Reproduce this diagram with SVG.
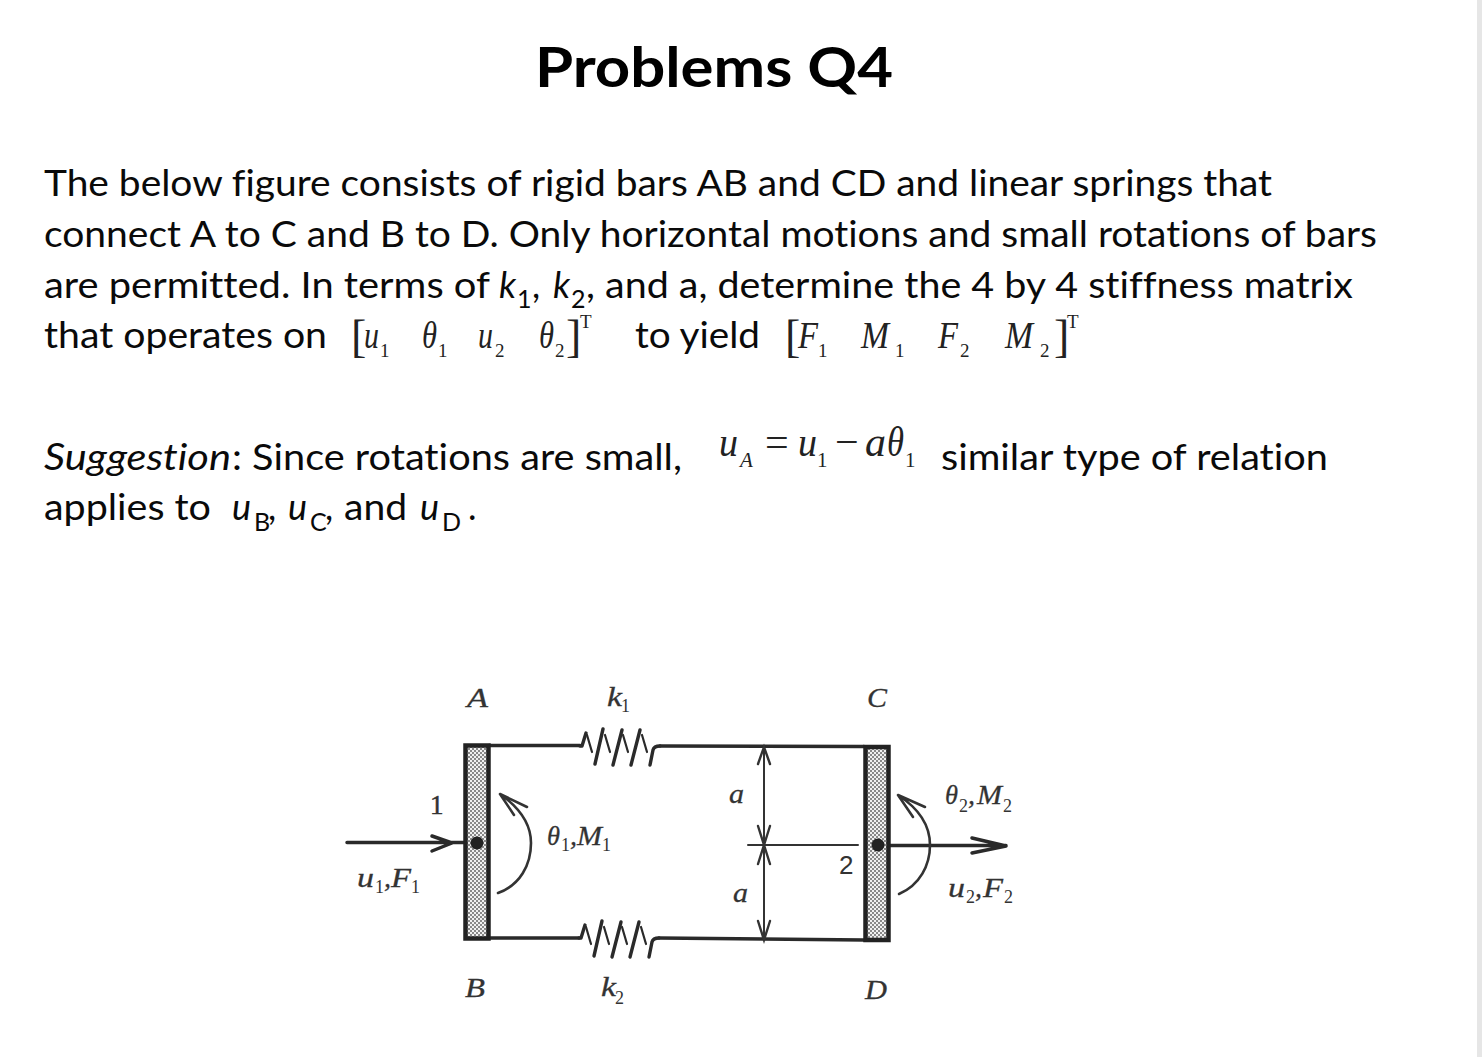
<svg xmlns="http://www.w3.org/2000/svg" width="1482" height="1057" viewBox="0 0 1482 1057">
<style>
.b{font-family:Lato,"Open Sans",sans-serif;font-size:36px;fill:#0a0a0a;font-variant-ligatures:none}
.bi{font-style:italic}
.sb{font-family:Lato,"Open Sans",sans-serif;font-size:25px;fill:#0a0a0a}
.m{font-family:"Liberation Serif",serif;font-style:italic;font-size:37px;fill:#222}
.e{font-family:"Liberation Serif",serif;font-style:italic;font-size:42px;fill:#222}
.u{font-style:normal}
.mn{font-family:"Liberation Serif",serif;font-size:19px;fill:#222}
.mb{font-family:"Liberation Serif",serif;font-size:46px;fill:#222}
.d{font-family:"Liberation Serif",serif;font-style:italic;font-size:28px;fill:#333;stroke:#333;stroke-width:.3}
.ds{font-family:"Liberation Serif",serif;font-size:18px;fill:#333}
.l{fill:none;stroke:#2a2a2a;stroke-width:3.5;stroke-linecap:round;stroke-linejoin:round}
.thin{stroke-width:2.2}
.t{fill:none;stroke:#333;stroke-width:2;stroke-linecap:round}
.bar{fill:url(#st);stroke:#222;stroke-width:4.500}
</style>
<defs>
<pattern id="st" width="4" height="4" patternUnits="userSpaceOnUse">
<rect width="4" height="4" fill="#f0f0f0"/>
<circle cx="1" cy="1" r="1" fill="#666"/>
<circle cx="3" cy="3" r="1" fill="#666"/>
</pattern>
<g id="spring">
<path class="l" d="M0 0H2L6 -13M15 18L23 -17M33 19L42 -16M51 19L60 -16M70 19L73 4Q74 0 80 0" style="stroke-width:3.400"/>
<path class="l thin" d="M7 -11L12 6M25 -11L30 6M43 -11L48 6M62 -11L67 6"/>
</g>
</defs>
<rect width="1482" height="1057" fill="#fff"/>
<rect x="1477" y="0" width="5" height="1057" fill="#e6e6e6"/>

<g id="title"><text x="535" y="87" textLength="358" lengthAdjust="spacingAndGlyphs" style="font-family:Lato,'Open Sans',sans-serif;font-weight:700;font-size:55px;fill:#000">Problems Q4</text></g>

<g id="problem-text">
<text class="b" x="44" y="196" textLength="1228" lengthAdjust="spacingAndGlyphs">The below figure consists of rigid bars AB and CD and linear springs that</text>
<text class="b" x="44" y="247" textLength="1333" lengthAdjust="spacingAndGlyphs">connect A to C and B to D. Only horizontal motions and small rotations of bars</text>
<text class="b" x="44" y="298" textLength="446" lengthAdjust="spacingAndGlyphs">are permitted. In terms of</text>
<text class="b bi" x="499" y="298">k</text><text class="sb" x="517" y="308">1</text><text class="b" x="532" y="298">,</text>
<text class="b bi" x="553" y="298">k</text><text class="sb" x="571" y="308">2</text>
<text class="b" x="586" y="298" textLength="767" lengthAdjust="spacingAndGlyphs">, and a, determine the 4 by 4 stiffness matrix</text>
<text class="b" x="44" y="348" textLength="283" lengthAdjust="spacingAndGlyphs">that operates on</text>
<text class="b" x="635" y="348" textLength="125" lengthAdjust="spacingAndGlyphs">to yield</text>
</g>

<g id="vector-displacements">
<text class="mb" x="351" y="352">[</text>
<text class="m" x="364" y="348" textLength="15" lengthAdjust="spacingAndGlyphs">u</text><text class="mn" x="380" y="357">1</text>
<text class="m" x="422" y="348" textLength="15" lengthAdjust="spacingAndGlyphs">θ</text><text class="mn" x="438" y="357">1</text>
<text class="m" x="478" y="348" textLength="15" lengthAdjust="spacingAndGlyphs">u</text><text class="mn" x="495" y="357">2</text>
<text class="m" x="539" y="348" textLength="15" lengthAdjust="spacingAndGlyphs">θ</text><text class="mn" x="555" y="357">2</text>
<text class="mb" x="566" y="352">]</text>
<text class="mn" x="580" y="328">T</text>
</g>
<g id="vector-forces">
<text class="mb" x="785" y="352">[</text>
<text class="m" x="798" y="348" textLength="20" lengthAdjust="spacingAndGlyphs">F</text><text class="mn" x="818" y="357">1</text>
<text class="m" x="861" y="348" textLength="28" lengthAdjust="spacingAndGlyphs">M</text><text class="mn" x="895" y="357">1</text>
<text class="m" x="938" y="348" textLength="20" lengthAdjust="spacingAndGlyphs">F</text><text class="mn" x="960" y="357">2</text>
<text class="m" x="1005" y="348" textLength="28" lengthAdjust="spacingAndGlyphs">M</text><text class="mn" x="1040" y="357">2</text>
<text class="mb" x="1054" y="352">]</text>
<text class="mn" x="1067" y="328">T</text>
</g>

<g id="suggestion-text">
<text class="b bi" x="44" y="470" textLength="187" lengthAdjust="spacingAndGlyphs">Suggestion</text>
<text class="b" x="232" y="470" textLength="450" lengthAdjust="spacingAndGlyphs">: Since rotations are small,</text>
<text class="b" x="941" y="470" textLength="387" lengthAdjust="spacingAndGlyphs">similar type of relation</text>
<text class="b" x="44" y="520" textLength="167" lengthAdjust="spacingAndGlyphs">applies to</text>
<text class="b bi" x="232" y="520">u</text><text class="sb" x="254" y="531">B</text><text class="b" x="268" y="520">,</text>
<text class="b bi" x="288" y="520">u</text><text class="sb" x="310" y="531">C</text><text class="b" x="325" y="520">,</text>
<text class="b" x="344" y="520" textLength="63" lengthAdjust="spacingAndGlyphs">and</text>
<text class="b bi" x="420" y="520">u</text><text class="sb" x="442" y="531">D</text>
<text class="b" x="468" y="520">.</text>
</g>

<g id="equation">
<text class="e" x="719" y="456" textLength="19" lengthAdjust="spacingAndGlyphs">u</text><text class="mn" x="740" y="467" style="font-style:italic;font-size:21px">A</text>
<text class="e u" x="765" y="456">=</text>
<text class="e" x="798" y="456" textLength="19" lengthAdjust="spacingAndGlyphs">u</text><text class="mn" x="817" y="467" style="font-size:21px">1</text>
<text class="e u" x="835" y="456">−</text>
<text class="e" x="865" y="456">a</text><text class="e" x="887" y="456" textLength="17" lengthAdjust="spacingAndGlyphs">θ</text><text class="mn" x="905" y="467" style="font-size:21px">1</text>
</g>

<g id="connectors">
<path class="l" d="M489 745.500H580"/>
<use href="#spring" x="580" y="746"/>
<path class="l" d="M660 746L864 746.500"/>
<path class="l" d="M489 938H579"/>
<use href="#spring" x="579" y="938"/>
<path class="l" d="M659 938L864 940"/>
<path class="l" d="M347 842.500H465M432 836L452 843L432 851"/>
<path class="l" d="M890 845.500H1006M972 838L1006 846L972 853"/>
<path class="t" d="M498 893C520 885 531 865 531 843C531 825 520 808 500 794M500 794L527 807M500 794L514 815" style="stroke-width:2.600"/>
<path class="t" d="M899 894C920 885 930 865 930 845C930 825 918 808 898 795M898 795L925 807M898 795L913 817" style="stroke-width:2.600"/>
<path class="t" d="M764 747V940M748 845H858"/>
<path class="t" d="M758 764L764 747L770 764M758 826L764 845L770 826M758 864L764 845L770 864M758 921L764 940L770 921" style="stroke-width:2.400"/>
</g>

<g id="bar-AB">
<rect class="bar" x="465.500" y="745.500" width="23" height="193"/>
<circle cx="477" cy="843" r="6.500" fill="#222"/>
</g>
<g id="bar-CD">
<rect class="bar" x="865.500" y="747" width="23" height="193"/>
<circle cx="878" cy="845" r="6.500" fill="#222"/>
</g>

<g id="label-A"><text class="d" x="467" y="707" textLength="21" lengthAdjust="spacingAndGlyphs">A</text></g>
<g id="label-B"><text class="d" x="465" y="997" textLength="20" lengthAdjust="spacingAndGlyphs">B</text></g>
<g id="label-C"><text class="d" x="867" y="707" textLength="20" lengthAdjust="spacingAndGlyphs">C</text></g>
<g id="label-D"><text class="d" x="865" y="999" textLength="22" lengthAdjust="spacingAndGlyphs">D</text></g>
<g id="label-k1"><text class="d" x="607" y="706" textLength="15" lengthAdjust="spacingAndGlyphs">k</text><text class="ds" x="621" y="712">1</text></g>
<g id="label-k2"><text class="d" x="601" y="996" textLength="15" lengthAdjust="spacingAndGlyphs">k</text><text class="ds" x="615" y="1004">2</text></g>
<g id="label-1"><text x="430" y="814" style="font-family:'Liberation Serif',serif;font-size:27px;fill:#333;stroke:#333;stroke-width:.5">1</text></g>
<g id="label-2"><text x="839" y="874" style="font-family:'Liberation Sans',sans-serif;font-size:26px;fill:#333">2</text></g>
<g id="label-a-top"><text class="d" x="729" y="803" textLength="15" lengthAdjust="spacingAndGlyphs">a</text></g>
<g id="label-a-bottom"><text class="d" x="733" y="902" textLength="15" lengthAdjust="spacingAndGlyphs">a</text></g>
<g id="label-theta1"><text class="d u" x="547" y="845" textLength="13" lengthAdjust="spacingAndGlyphs">θ</text><text class="ds" x="561" y="851">1</text><text class="d u" x="570" y="845">,</text><text class="d" x="577" y="845" textLength="25" lengthAdjust="spacingAndGlyphs">M</text><text class="ds" x="602" y="851">1</text></g>
<g id="label-u1"><text class="d" x="357" y="887" textLength="17" lengthAdjust="spacingAndGlyphs">u</text><text class="ds" x="375" y="893">1</text><text class="d u" x="384" y="887">,</text><text class="d" x="391" y="887" textLength="20" lengthAdjust="spacingAndGlyphs">F</text><text class="ds" x="411" y="893">1</text></g>
<g id="label-theta2"><text class="d u" x="945" y="804" textLength="13" lengthAdjust="spacingAndGlyphs">θ</text><text class="ds" x="959" y="812">2</text><text class="d u" x="968" y="804">,</text><text class="d" x="977" y="804" textLength="25" lengthAdjust="spacingAndGlyphs">M</text><text class="ds" x="1003" y="812">2</text></g>
<g id="label-u2"><text class="d" x="948" y="897" textLength="17" lengthAdjust="spacingAndGlyphs">u</text><text class="ds" x="966" y="903">2</text><text class="d u" x="975" y="897">,</text><text class="d" x="983" y="897" textLength="20" lengthAdjust="spacingAndGlyphs">F</text><text class="ds" x="1004" y="903">2</text></g>
</svg>
